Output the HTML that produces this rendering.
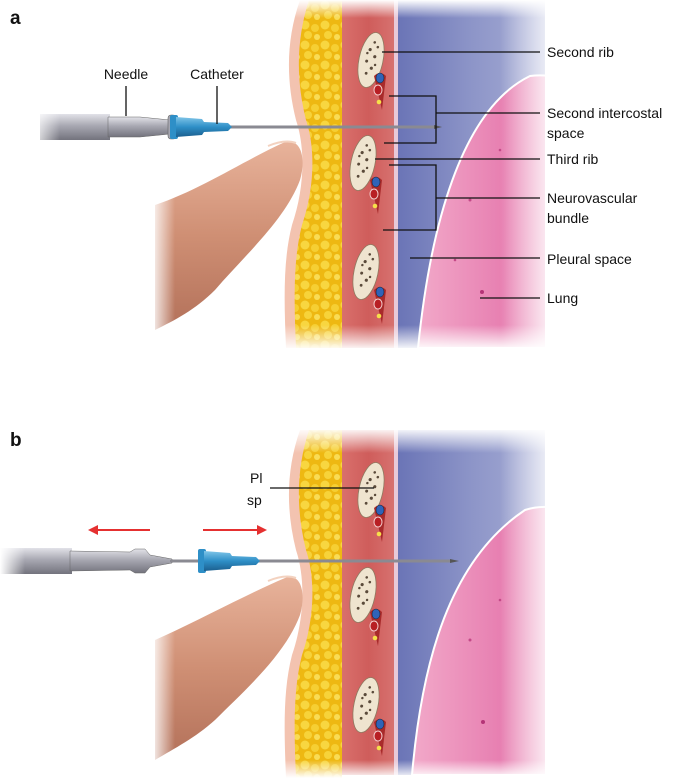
<!DOCTYPE html>
<html><head><meta charset="utf-8"><style>
body{margin:0;background:#fff}
svg{display:block}
text{font-family:"Liberation Sans",Arial,sans-serif;font-size:14px;fill:#111}
</style></head><body>
<svg width="685" height="778" viewBox="0 0 685 778" xmlns="http://www.w3.org/2000/svg">
<defs>
<linearGradient id="blueG" x1="0" x2="1" y1="0" y2="0">
<stop offset="0" stop-color="#6a74b6"/><stop offset="0.5" stop-color="#8d95c8"/><stop offset="1" stop-color="#a8aed6"/></linearGradient>
<linearGradient id="lungG" x1="0" x2="1" y1="0" y2="0">
<stop offset="0" stop-color="#f2a9c9"/><stop offset="0.6" stop-color="#e77fb1"/><stop offset="1" stop-color="#f0a6c8"/></linearGradient>
<linearGradient id="fadeR" x1="0" x2="1" y1="0" y2="0">
<stop offset="0" stop-color="#fff" stop-opacity="0"/><stop offset="1" stop-color="#fff" stop-opacity="1"/></linearGradient>
<linearGradient id="fadeT" x1="0" x2="0" y1="0" y2="1">
<stop offset="0" stop-color="#fff" stop-opacity="1"/><stop offset="1" stop-color="#fff" stop-opacity="0"/></linearGradient>
<linearGradient id="fadeB" x1="0" x2="0" y1="0" y2="1">
<stop offset="0" stop-color="#fff" stop-opacity="0"/><stop offset="1" stop-color="#fff" stop-opacity="1"/></linearGradient>
<linearGradient id="fadeL" x1="0" x2="1" y1="0" y2="0">
<stop offset="0" stop-color="#fff" stop-opacity="1"/><stop offset="1" stop-color="#fff" stop-opacity="0"/></linearGradient>
<linearGradient id="muscG" x1="0" x2="1" y1="0" y2="0">
<stop offset="0" stop-color="#d9706c"/><stop offset="0.5" stop-color="#cf5d5b"/><stop offset="1" stop-color="#d77270"/></linearGradient>
<linearGradient id="syrG" x1="0" x2="0" y1="0" y2="1">
<stop offset="0" stop-color="#e2e2e8"/><stop offset="0.45" stop-color="#a8a8b2"/><stop offset="1" stop-color="#73737d"/></linearGradient>
<linearGradient id="cathG" x1="0" x2="0" y1="0" y2="1">
<stop offset="0" stop-color="#7fc5e8"/><stop offset="0.5" stop-color="#2e8fc7"/><stop offset="1" stop-color="#1b5f8f"/></linearGradient>
<linearGradient id="fingG" x1="0" x2="0" y1="0" y2="1">
<stop offset="0" stop-color="#e8b39b"/><stop offset="0.5" stop-color="#cf8f74"/><stop offset="1" stop-color="#b3715a"/></linearGradient>
<pattern id="fat" width="20" height="20" patternUnits="userSpaceOnUse">
<rect width="20" height="20" fill="#eeb812"/><circle cx="5" cy="5" r="4.5" fill="#f8d640"/><circle cx="15" cy="8" r="4" fill="#f6cf33"/><circle cx="8" cy="15" r="4" fill="#f7d33a"/><circle cx="17" cy="17" r="3" fill="#f9dc55"/></pattern>
<g id="rib"><ellipse cx="0" cy="0" rx="12" ry="28" fill="#efe4cf" stroke="#8e7a60" stroke-width="0.8"/>
<circle cx="-3" cy="-10" r="1.6" fill="#5a4a3a"/><circle cx="3" cy="-4" r="1.6" fill="#5a4a3a"/><circle cx="-4" cy="2" r="1.5" fill="#5a4a3a"/><circle cx="2" cy="8" r="1.6" fill="#5a4a3a"/><circle cx="-2" cy="14" r="1.4" fill="#5a4a3a"/><circle cx="4" cy="-14" r="1.3" fill="#5a4a3a"/><circle cx="0" cy="-18" r="1.3" fill="#5a4a3a"/><circle cx="5" cy="4" r="1.2" fill="#5a4a3a"/><circle cx="-5" cy="-6" r="1.2" fill="#5a4a3a"/></g>
<g id="nvb"><path d="M-6,-4 Q0,-10 6,-4 L2,30 Z" fill="#a82a2a"/>
<ellipse cx="0" cy="-2" rx="4" ry="5" fill="#2f63b8" stroke="#123" stroke-width="0.5"/>
<ellipse cx="-2" cy="10" rx="4" ry="5" fill="#b81f24" stroke="#f4d0d0" stroke-width="1"/>
<circle cx="-1" cy="22" r="2.3" fill="#f6e04a"/></g>
<g id="syringe">
<rect x="0" y="-13" width="70" height="26" fill="url(#syrG)"/>
<path d="M68,-10 L100,-10 L130,-7 L130,7 L100,10 L68,10 Z" fill="url(#syrG)" stroke="#666" stroke-width="0.5"/>
<rect x="128" y="-12" width="8" height="24" rx="3" fill="#a6a6b0" stroke="#666" stroke-width="0.6"/>
</g>
<g id="cath">
<rect x="0" y="-12" width="8" height="24" rx="2" fill="#2e8fc7"/>
<path d="M6,-10 L32,-8 L34,-5 L58,-4 L62,0 L58,4 L34,5 L32,8 L6,10 Z" fill="url(#cathG)"/>
</g>
</defs>

<!-- ============ PANEL A ============ -->
<text x="10" y="24" style="font-size:19px;font-weight:bold">a</text>
<g>
<rect x="397" y="0" width="150" height="348" fill="url(#blueG)"/>
<path d="M418,348 C430,230 460,110 530,76 Q545,74 560,78 L560,348 Z" fill="url(#lungG)" stroke="#fff" stroke-width="2"/>
<circle cx="482" cy="292" r="2" fill="#b43477"/><circle cx="470" cy="200" r="1.5" fill="#c44a88"/><circle cx="500" cy="150" r="1.3" fill="#c44a88"/><circle cx="455" cy="260" r="1.3" fill="#c44a88"/>
<rect x="500" y="0" width="60" height="350" fill="url(#fadeR)"/>
<rect x="545" y="0" width="30" height="350" fill="#fff"/>
<rect x="342" y="0" width="53" height="348" fill="url(#muscG)"/>
<rect x="394" y="0" width="4" height="348" fill="#e8c9d8"/>
<path d="M300,0 C286,40 286,80 296,120 C306,150 304,190 292,225 C283,260 284,300 286,348 L342,348 L342,0 Z" fill="#f3c3b0"/>
<path d="M309,0 C296,40 296,80 306,120 C316,150 314,190 302,225 C293,260 294,300 296,348 L342,348 L342,0 Z" fill="url(#fat)"/>
<use href="#rib" transform="translate(371,60) rotate(12)"/>
<use href="#rib" transform="translate(363,163) rotate(12)"/>
<use href="#rib" transform="translate(366,272) rotate(12)"/>
<use href="#nvb" transform="translate(380,80)"/>
<use href="#nvb" transform="translate(376,184)"/>
<use href="#nvb" transform="translate(380,294)"/>
<rect x="280" y="0" width="290" height="18" fill="url(#fadeT)"/>
<rect x="280" y="325" width="290" height="25" fill="url(#fadeB)"/>
<path d="M155,205 C200,190 245,160 285,142 C302,138 306,160 300,180 C285,220 245,255 215,290 C195,310 175,320 155,330 Z" fill="url(#fingG)"/>
<path d="M268,146 Q285,139 296,143" stroke="#f3d2c0" stroke-width="2" fill="none"/>
<rect x="150" y="195" width="25" height="140" fill="url(#fadeL)"/>
<rect x="170" y="125.5" width="266" height="3" fill="#8a8a92"/>
<path d="M434,125 L442,127 L434,129 Z" fill="#555"/>
<use href="#syringe" transform="translate(40,127)"/>
<use href="#cath" transform="translate(170,127)"/>
<rect x="30" y="110" width="30" height="35" fill="url(#fadeL)"/>
</g>
<g stroke="#111" stroke-width="1.3" fill="none">
<path d="M126,86 V116"/><path d="M217,86 V124"/>
<path d="M382,52 H540"/>
<path d="M389,96 H436 V143 H384 M436,113 H540"/>
<path d="M375,159 H540"/>
<path d="M389,165 H436 V230 H383 M436,198 H540"/>
<path d="M410,258 H540"/>
<path d="M480,298 H540"/>
</g>
<text x="126" y="79" text-anchor="middle">Needle</text>
<text x="217" y="79" text-anchor="middle">Catheter</text>
<text x="547" y="57">Second rib</text>
<text x="547" y="118">Second intercostal</text>
<text x="547" y="138">space</text>
<text x="547" y="164">Third rib</text>
<text x="547" y="203">Neurovascular</text>
<text x="547" y="223">bundle</text>
<text x="547" y="264">Pleural space</text>
<text x="547" y="303">Lung</text>

<!-- ============ PANEL B ============ -->
<text x="10" y="446" style="font-size:19px;font-weight:bold">b</text>
<g>
<rect x="397" y="430" width="150" height="345" fill="url(#blueG)"/>
<path d="M412,775 C422,660 450,560 525,510 Q540,505 560,508 L560,775 Z" fill="url(#lungG)" stroke="#fff" stroke-width="2"/>
<circle cx="483" cy="722" r="2" fill="#b43477"/><circle cx="470" cy="640" r="1.5" fill="#c44a88"/><circle cx="500" cy="600" r="1.3" fill="#c44a88"/>
<rect x="500" y="430" width="60" height="348" fill="url(#fadeR)"/>
<rect x="545" y="430" width="30" height="348" fill="#fff"/>
<rect x="342" y="430" width="53" height="345" fill="url(#muscG)"/>
<rect x="394" y="430" width="4" height="345" fill="#e8c9d8"/>
<path d="M300,430 C286,470 286,510 296,550 C306,580 304,620 292,655 C283,690 284,730 286,778 L342,778 L342,430 Z" fill="#f3c3b0"/>
<path d="M309,430 C296,470 296,510 306,550 C316,580 314,620 302,655 C293,690 294,730 296,778 L342,778 L342,430 Z" fill="url(#fat)"/>
<use href="#rib" transform="translate(371,490) rotate(12)"/>
<use href="#rib" transform="translate(363,595) rotate(12)"/>
<use href="#rib" transform="translate(366,705) rotate(12)"/>
<use href="#nvb" transform="translate(380,512)"/>
<use href="#nvb" transform="translate(376,616)"/>
<use href="#nvb" transform="translate(380,726)"/>
<rect x="280" y="428" width="290" height="25" fill="url(#fadeT)"/>
<rect x="280" y="760" width="290" height="18" fill="url(#fadeB)"/>
<path d="M155,640 C200,620 245,595 285,578 C302,572 306,595 300,615 C285,655 245,690 215,720 C195,738 175,748 155,760 Z" fill="url(#fingG)"/>
<path d="M268,581 Q285,574 296,578" stroke="#f3d2c0" stroke-width="2" fill="none"/>
<rect x="150" y="630" width="25" height="140" fill="url(#fadeL)"/>
<rect x="170" y="559.5" width="282" height="3" fill="#8a8a92"/>
<path d="M450,559 L459,561 L450,563 Z" fill="#555"/>
<g transform="translate(0,561)">
<rect x="0" y="-13" width="72" height="26" fill="url(#syrG)"/>
<path d="M70,-10 L130,-9 L135,-12 L145,-12 L150,-6 L172,-2 L172,2 L150,6 L145,12 L135,12 L130,9 L70,10 Z" fill="url(#syrG)" stroke="#666" stroke-width="0.5"/>
<rect x="170" y="-1" width="30" height="2" fill="#8a8a92"/>
</g>
<use href="#cath" transform="translate(198,561)"/>
<rect x="0" y="545" width="25" height="35" fill="url(#fadeL)"/>
</g>
<g stroke="#e53030" stroke-width="2" fill="#e53030">
<path d="M150,530 H94"/><path d="M88,530 L98,525 L98,535 Z" stroke="none"/>
<path d="M203,530 H260"/><path d="M267,530 L257,525 L257,535 Z" stroke="none"/>
</g>
<path d="M270,488 H374" stroke="#111" stroke-width="1.3"/>
<text x="250" y="483">Pl</text>
<text x="247" y="505">sp</text>
</svg>
</body></html>
